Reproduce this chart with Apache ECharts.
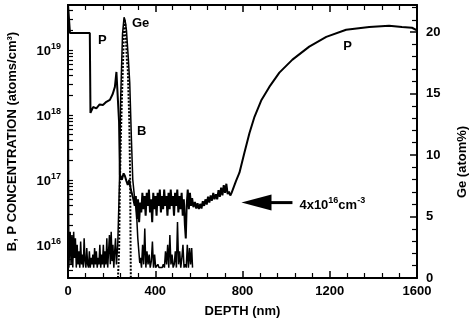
<!DOCTYPE html>
<html lang="en">
<head>
  <meta charset="UTF-8">
  <title>SIMS depth profile</title>
  <script src="https://cdn.jsdelivr.net/npm/echarts@6/dist/echarts.min.js"></script>
  <style>
    html, body { margin: 0; padding: 0; background: #fff; }
  </style>
</head>
<body>
  <div id="main" style="width:474px;height:326px"></div>
  <script>
    // data: [depth nm, log10(atoms/cm3)]
    var pProfile = [
      [0, 19.7], [8, 19.7], [9, 19.26], [100, 19.26], [103, 18.03], [110, 18.05], [115, 18.12],
      [130, 18.1], [145, 18.16], [160, 18.15], [176, 18.2], [192, 18.23], [205, 18.32],
      [215, 18.43], [222, 18.66], [229, 18.69], [234, 17.9], [238, 17.08], [247, 17.0],
      [255, 17.1], [261, 17.06], [268, 16.98], [274, 16.92], [281, 17.0], [288, 16.85],
      [297, 16.74], [306, 16.6], [311, 16.75], [316, 16.4], [321, 16.7], [326, 16.35],
      [331, 16.65], [336, 16.5], [341, 16.8], [346, 16.55], [351, 16.75], [356, 16.45],
      [361, 16.8], [366, 16.6], [371, 16.85], [376, 16.5], [381, 16.7], [386, 16.35],
      [391, 16.8], [396, 16.55], [401, 16.75], [406, 16.45], [411, 16.8], [416, 16.6],
      [421, 16.85], [426, 16.5], [431, 16.75], [436, 16.55], [441, 16.85], [446, 16.6],
      [451, 16.75], [456, 16.45], [461, 16.8], [466, 16.55], [471, 16.85], [476, 16.6],
      [481, 16.75], [486, 16.45], [491, 16.8], [496, 16.6], [501, 16.85], [506, 16.5],
      [511, 16.75], [516, 16.55], [521, 16.8], [526, 16.45], [531, 16.7], [536, 16.3],
      [540, 16.1], [544, 16.6], [549, 16.85], [554, 16.55], [559, 16.8], [564, 16.6],
      [569, 16.72], [575, 16.58], [582, 16.66], [588, 16.56], [594, 16.64], [600, 16.55],
      [606, 16.63], [612, 16.56], [618, 16.67], [624, 16.6], [630, 16.7], [636, 16.62],
      [642, 16.74], [648, 16.65], [654, 16.76], [660, 16.68], [666, 16.8], [672, 16.7],
      [678, 16.78], [684, 16.7], [690, 16.84], [696, 16.74], [702, 16.88], [708, 16.76],
      [714, 16.92], [720, 16.8], [726, 16.94], [732, 16.78], [738, 16.82], [744, 16.76],
      [750, 16.8], [754, 16.8], [770, 16.98], [786, 17.11], [809, 17.42], [832, 17.72],
      [855, 17.97], [887, 18.23], [923, 18.43], [969, 18.65], [1029, 18.85], [1106, 19.05],
      [1184, 19.2], [1275, 19.31], [1381, 19.35], [1472, 19.37], [1531, 19.35],
      [1577, 19.34], [1586, 19.31], [1600, 19.3]
    ];

    var bProfile = [
      [0, 19.7], [2, 19.7], [4, 15.65], [10, 16.2], [14, 15.7], [18, 16.15], [22, 15.65],
      [26, 16.2], [30, 15.8], [34, 16.1], [38, 15.65], [42, 16.0], [46, 15.7], [50, 15.9],
      [54, 15.65], [58, 16.05], [62, 15.7], [66, 15.85], [70, 15.65], [74, 16.1], [78, 15.75],
      [82, 15.65], [86, 15.95], [90, 15.7], [94, 15.65], [98, 15.9], [102, 15.65], [106, 15.8],
      [110, 15.7], [114, 15.85], [118, 15.65], [122, 15.95], [126, 15.7], [130, 15.9],
      [134, 15.65], [138, 15.8], [142, 15.7], [146, 16.0], [150, 15.65], [154, 15.85],
      [158, 15.7], [162, 16.0], [166, 15.65], [170, 15.9], [174, 15.7], [178, 16.1],
      [182, 15.65], [186, 15.9], [190, 16.15], [194, 15.7], [198, 16.2], [202, 15.75],
      [206, 16.0], [210, 15.65], [214, 15.9], [218, 16.1], [222, 15.7], [228, 16.0],
      [233, 16.6], [236, 17.0], [241, 18.2], [250, 19.25], [257, 19.5], [262, 19.45],
      [268, 19.3], [276, 18.9], [283, 18.5], [291, 17.6], [297, 17.0], [306, 16.7],
      [314, 16.5], [320, 16.1], [329, 15.72], [332, 15.8], [337, 15.65], [342, 16.0],
      [347, 15.7], [352, 16.25], [357, 15.65], [362, 15.9], [367, 15.7], [372, 15.85],
      [377, 15.65], [382, 15.75], [387, 16.05], [392, 15.65], [397, 15.85], [402, 15.65],
      [407, 15.65], [412, 15.7], [417, 15.65], [432, 15.65], [437, 15.7], [442, 15.65],
      [447, 15.9], [452, 15.7], [457, 16.0], [462, 15.65], [467, 16.15], [472, 15.7],
      [477, 15.85], [482, 15.65], [487, 15.7], [492, 15.9], [497, 15.65], [502, 16.35],
      [507, 15.7], [512, 15.9], [517, 15.65], [522, 15.8], [527, 16.0], [532, 15.65],
      [537, 15.7], [542, 15.65], [547, 16.0], [552, 15.65], [557, 15.95], [562, 15.7],
      [567, 15.95], [571, 15.65]
    ];

    // Ge atom% (right axis)
    var geProfile = [
      [229, 0], [234.5, 2.3], [237.7, 7.4], [242, 11.2], [247, 14.5], [254, 18.5],
      [258, 21.0], [263, 20.6], [270, 17.7], [274, 17.0], [281, 12.8], [285, 8.0],
      [287, 2.3], [288, 0]
    ];

    var decadeLabels = [16, 17, 18, 19];

    // [depth, log10 conc, text]
    var notes = [
      [137, 19.17, '{t|P}'],
      [293, 19.43, '{t|Ge}'],
      [316, 17.77, '{t|B}'],
      [1262, 19.08, '{t|P}'],
      [1061, 16.63, '{t|4x10}{s|16}{t|cm}{s|-3}']
    ];

    var FONT = 'Liberation Sans, Arial, sans-serif';

    // log minor tick positions
    var logTicks = [];
    for (var n = 15; n <= 19; n++) {
      for (var k = 1; k <= 9; k++) {
        var v = n + Math.log10(k);
        if (v > 15.49 && v < 19.69) logTicks.push(v);
      }
    }

    var myChart = echarts.init(document.getElementById('main'));

    var axisLineStyle = { color: '#000', width: 2 };
    var tickStyle = { color: '#000', width: 1.5 };
    var minorStyle = { color: '#000', width: 1.2 };

    var option = {
      animation: false,
      backgroundColor: '#fff',
      grid: { left: 68, right: 57, top: 5, bottom: 48, outerBoundsMode: 'none' },
      xAxis: [{
        type: 'value',
        min: 0, max: 1600, interval: 400,
        name: 'DEPTH (nm)', nameLocation: 'middle', nameGap: 27,
        nameTextStyle: { fontFamily: FONT, fontWeight: 'bold', fontSize: 13, color: '#000' },
        axisLine: { show: true, onZero: false, lineStyle: axisLineStyle },
        axisTick: { show: true, inside: true, length: 7, lineStyle: tickStyle },
        minorTick: { show: true, splitNumber: 5, length: 5, lineStyle: minorStyle },
        splitLine: { show: false },
        axisLabel: {
          margin: 7, fontFamily: FONT, fontWeight: 'bold', fontSize: 13, color: '#000',
          formatter: function (v) { return String(v); }
        }
      }, {
        type: 'value', position: 'top',
        min: 0, max: 1600, interval: 400,
        axisLine: { show: true, onZero: false, lineStyle: axisLineStyle },
        axisTick: { show: true, inside: true, length: 7, lineStyle: tickStyle },
        minorTick: { show: true, splitNumber: 5, length: 5, lineStyle: minorStyle },
        splitLine: { show: false },
        axisLabel: { show: false }
      }],
      yAxis: [{
        type: 'value',
        min: 15.49, max: 19.69,
        name: 'B, P CONCENTRATION (atoms/cm³)', nameLocation: 'middle', nameGap: 49,
        nameTextStyle: { fontFamily: FONT, fontWeight: 'bold', fontSize: 13, color: '#000' },
        axisLine: { show: true, onZero: false, lineStyle: axisLineStyle },
        axisTick: { show: true, inside: true, length: 5, customValues: logTicks, lineStyle: minorStyle },
        splitLine: { show: false },
        axisLabel: {
          margin: 7,
          customValues: decadeLabels,
          formatter: function (v) { return '{b|10}{s|' + Math.round(v) + '}'; },
          rich: {
            b: { fontFamily: FONT, fontWeight: 'bold', fontSize: 13, color: '#000', lineHeight: 16, verticalAlign: 'bottom' },
            s: { fontFamily: FONT, fontWeight: 'bold', fontSize: 9, color: '#000', lineHeight: 16, verticalAlign: 'top' }
          }
        }
      }, {
        type: 'value', position: 'right',
        min: 0, max: 22.2, interval: 5,
        axisLine: { show: true, onZero: false, lineStyle: axisLineStyle },
        axisTick: { show: true, inside: true, length: 7, lineStyle: tickStyle },
        minorTick: { show: true, splitNumber: 5, length: 5, lineStyle: minorStyle },
        splitLine: { show: false },
        axisLabel: {
          margin: 9, showMaxLabel: false, fontFamily: FONT, fontWeight: 'bold', fontSize: 13, color: '#000'
        }
      }],
      series: [{
        name: 'B', type: 'line', xAxisIndex: 0, yAxisIndex: 0,
        data: bProfile, showSymbol: false,
        lineStyle: { color: '#000', width: 1.5 }
      }, {
        name: 'P', type: 'line', xAxisIndex: 0, yAxisIndex: 0,
        data: pProfile, showSymbol: false,
        lineStyle: { color: '#000', width: 2 }
      }, {
        name: 'Ge', type: 'line', xAxisIndex: 0, yAxisIndex: 1,
        data: geProfile, showSymbol: false,
        lineStyle: { color: '#000', width: 2, type: [2, 1.5] }
      }]
    };
    myChart.setOption(option);

    // annotations placed from data coordinates
    function px(d, l) { return myChart.convertToPixel({ xAxisIndex: 0, yAxisIndex: 0 }, [d, l]); }
    var richNote = {
      t: { fontFamily: FONT, fontWeight: 'bold', fontSize: 13, fill: '#000', lineHeight: 16, verticalAlign: 'bottom' },
      s: { fontFamily: FONT, fontWeight: 'bold', fontSize: 9, fill: '#000', lineHeight: 16, verticalAlign: 'top' }
    };
    var graphics = notes.map(function (nt) {
      var p = px(nt[0], nt[1]);
      return {
        type: 'text', x: p[0], y: p[1],
        style: { text: nt[2], rich: richNote, verticalAlign: 'middle', align: 'left' }
      };
    });
    var tip = px(795, 16.65), head = px(933, 16.65), tail = px(1029, 16.65);
    graphics.push({
      type: 'polygon',
      shape: { points: [[tip[0], tip[1]], [head[0], tip[1] - 8], [head[0], tip[1] + 8]] },
      style: { fill: '#000' }
    });
    graphics.push({
      type: 'line',
      shape: { x1: head[0] - 2, y1: tip[1], x2: tail[0], y2: tip[1] },
      style: { stroke: '#000', lineWidth: 3 }
    });
    // right axis title sits a bit below the middle in the original
    graphics.push({
      type: 'text', x: 462, y: 162, rotation: Math.PI / 2,
      style: {
        text: 'Ge (atom%)', fontFamily: FONT, fontWeight: 'bold', fontSize: 13, fill: '#000',
        align: 'center', verticalAlign: 'middle'
      }
    });
    myChart.setOption({ graphic: graphics });
  </script>
</body>
</html>
